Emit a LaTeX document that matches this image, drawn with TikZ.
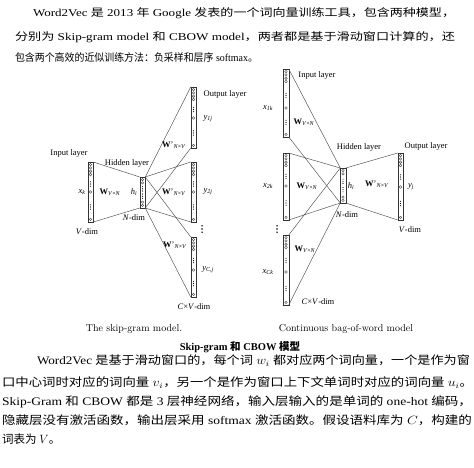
\documentclass[tikz,border=0pt]{standalone}
\usepackage{fontspec}
\usepackage{graphicx}
\setmainfont{Liberation Serif}
\newfontfamily\zhfont{Noto Sans CJK SC}
\newfontfamily\lmfont{Latin Modern Roman}
\newcommand\zh[1]{{\zhfont #1}}
\newcommand\fitw[2]{\resizebox{#1}{\height}{#2}}
\newcommand\vx[2]{\textit{#1}\textsubscript{\textit{#2}}}
\newcommand\Wvn{\textbf{W}\textsubscript{\textit{V}×\textit{N}}}
\newcommand\Wnv{\textbf{W}'\textsubscript{\textit{N}×\textit{V}}}
\newcommand\dotcol[2]{\foreach \d in {-2.2,0,2.2} \fill[black] (#1,{#2+\d}) circle[radius=0.55pt];}
\newcommand\bigdots[2]{\foreach \d in {-3.2,0,3.2} \fill[black] (#1,{#2+\d}) circle[radius=0.8pt];}
% #1 name, #2 cx, #3 ytop, #4 ybot, #5 ymid
\newcommand\panel[5]{%
  \node[colbox, minimum height={(#4-#3)*1pt}] (#1) at (#2,{(#3+#4)/2}) {};
  \foreach \k in {0,...,3} \draw[cell] (#2,{#3+2.6+3.3*\k}) circle[radius=1.3pt];
  \dotcol{#2}{(#3+14+#5)/2}
  \draw[cell] (#2,#5) circle[radius=1.3pt];
  \dotcol{#2}{(#5+#4)/2}
  \draw[cell] (#2,{#4-2.6}) circle[radius=1.3pt];
}
\newcommand\hpanel[4]{%
  \node[colbox, minimum height={(#4-#3)*1pt}] (#1) at (#2,{(#3+#4)/2}) {};
  \draw[cell] (#2,{#3+2.6}) circle[radius=1.3pt];
  \draw[cell] (#2,{#3+5.9}) circle[radius=1.3pt];
  \dotcol{#2}{#3+(#4-#3)*0.38}
  \dotcol{#2}{#3+(#4-#3)*0.62}
  \draw[cell] (#2,{#4-5.9}) circle[radius=1.3pt];
  \draw[cell] (#2,{#4-2.6}) circle[radius=1.3pt];
}
\begin{document}
\begin{tikzpicture}[x=1pt,y=-1pt,
  every node/.style={inner sep=0pt, outer sep=0pt},
  colbox/.style={draw=black!80, line width=0.5pt, minimum width=5.5pt, rectangle},
  cell/.style={draw=black!75, line width=0.4pt},
  wire/.style={draw=black!70, line width=0.45pt},
  lbl/.style={font=\fontsize{8.5}{10}\selectfont},
  bodyA/.style={anchor=west, font=\fontsize{10.5}{12}\selectfont},
  bodyB/.style={anchor=west, font=\fontsize{11.5}{13}\selectfont}]
\useasboundingbox (0,0) rectangle (474,468);
\fill[white] (0,0) rectangle (474,468);

% paragraph 1
\node[bodyA] (p1a) at (33,13) {\fitw{422pt}{Word2Vec \zh{是} 2013 \zh{年} Google \zh{发表的一个词向量训练工具，包含两种模型，}}};
\node[bodyA] (p1b) at (15,37) {\fitw{440pt}{\zh{分别为} Skip-gram model \zh{和} CBOW model\zh{，两者都是基于滑动窗口计算的，还}}};
\node[bodyA] (p1c) at (15,58) {\fitw{243pt}{\zh{包含两个高效的近似训练方法：负采样和层序} softmax\zh{。}}};

% skip-gram model
\panel{sin}{90.5}{162}{222}{192}
\hpanel{shid}{142.5}{177}{208}
\panel{so1}{193.5}{87}{148}{118}
\panel{so2}{193.5}{162}{222}{192}
\panel{so3}{193.5}{237}{297}{270}
\bigdots{202}{229}
\draw[wire] (sin.north east) -- (shid.north west);
\draw[wire] (sin.south east) -- (shid.south west);
\foreach \o in {so1,so2,so3}{
  \draw[wire] (shid.north east) -- (\o.north west);
  \draw[wire] (shid.south east) -- (\o.south west);
}
\node[lbl] (sinl) at (69,153) {Input layer};
\node[lbl] (shl) at (127,163) {Hidden layer};
\node[lbl] (sol) at (225,94) {Output layer};
\node[lbl] (sxk) at (82,192) {\vx{x}{k}};
\node[lbl] (sW) at (110,192) {\Wvn};
\node[lbl] (shi) at (134,192) {\vx{h}{i}};
\node[lbl] (snd) at (134,218) {\textit{N}-dim};
\node[lbl] (svd) at (87,232) {\textit{V}-dim};
\node[lbl] (sy1) at (208,119) {\vx{y}{1j}};
\node[lbl] (sy2) at (208,192) {\vx{y}{2j}};
\node[lbl] (sy3) at (208,270) {\vx{y}{C,j}};
\node[lbl] (sW1) at (174,145) {\Wnv};
\node[lbl] (sW2) at (174,192) {\Wnv};
\node[lbl] (sW3) at (175,245) {\Wnv};
\node[lbl] (scv) at (194,307) {\textit{C}×\textit{V}-dim};

% CBOW model
\panel{ci1}{286}{69}{137}{108}
\panel{ci2}{286}{153}{220}{186}
\panel{ci3}{286}{235}{305}{272}
\hpanel{chid}{343}{168}{203}
\panel{cout}{400.5}{153}{220}{187}
\bigdots{277}{229}
\foreach \i in {ci1,ci2,ci3}{
  \draw[wire] (\i.north east) -- (chid.north west);
  \draw[wire] (\i.south east) -- (chid.south west);
}
\draw[wire] (chid.north east) -- (cout.north west);
\draw[wire] (chid.south east) -- (cout.south west);
\node[lbl] (cinl) at (317,75) {Input layer};
\node[lbl] (cx1) at (268,108) {\vx{x}{1k}};
\node[lbl] (cW1) at (304,122) {\Wvn};
\node[lbl] (cx2) at (268,186) {\vx{x}{2k}};
\node[lbl] (cW2) at (307,186) {\Wvn};
\node[lbl] (cx3) at (268,272) {\vx{x}{Ck}};
\node[lbl] (cW3) at (305,249) {\Wvn};
\node[lbl] (ccv) at (318,302) {\textit{C}×\textit{V}-dim};
\node[lbl] (chl) at (359,147) {Hidden layer};
\node[lbl] (chi) at (351,186) {\vx{h}{i}};
\node[lbl] (cnd) at (347,215) {\textit{N}-dim};
\node[lbl] (cWo) at (377,184) {\Wnv};
\node[lbl] (coutl) at (426,146) {Output layer};
\node[lbl] (cyj) at (411,187) {\vx{y}{j}};
\node[lbl] (cvd) at (410,230) {\textit{V}-dim};

% captions
\node[font=\lmfont\fontsize{10}{12}\selectfont] (cap1) at (134,329) {The skip-gram model.};
\node[font=\lmfont\fontsize{10}{12}\selectfont] (cap2) at (346,329) {Continuous bag-of-word model};
\node[font=\bfseries\fontsize{10.5}{12}\selectfont] (cap3) at (240,347) {Skip-gram \zh{和} CBOW \zh{模型}};

% paragraph 2
\node[bodyB] (p2a) at (37,361) {\fitw{433pt}{Word2Vec \zh{是基于滑动窗口的，每个词} $w_i$ \zh{都对应两个词向量，一个是作为窗}}};
\node[bodyB] (p2b) at (2,383) {\fitw{471pt}{\zh{口中心词时对应的词向量} $v_i$\zh{，另一个是作为窗口上下文单词时对应的词向量} $u_i$\zh{。}}};
\node[bodyB] (p2c) at (2,402) {\fitw{470pt}{Skip-Gram \zh{和} CBOW \zh{都是} 3 \zh{层神经网络，输入层输入的是单词的} one-hot \zh{编码，}}};
\node[bodyB] (p2d) at (2,420) {\fitw{470pt}{\zh{隐藏层没有激活函数，输出层采用} softmax \zh{激活函数。假设语料库为} $C$\zh{，构建的}}};
\node[bodyB] (p2e) at (2,439) {\zh{词表为} $V$\zh{。}};
\end{tikzpicture}
\end{document}
